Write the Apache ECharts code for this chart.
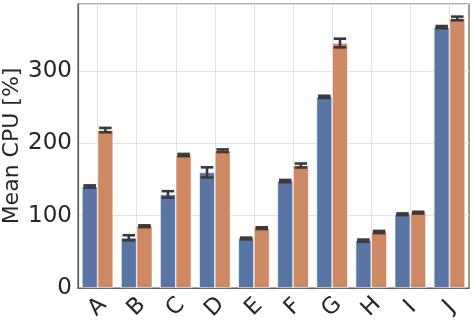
<!DOCTYPE html>
<html>
<head>
<meta charset="utf-8">
<script src="https://cdn.jsdelivr.net/npm/echarts@6/dist/echarts.min.js"></script>
<style>
  html, body { margin: 0; padding: 0; background: #fff; }
  #chart { width: 474px; height: 325px; }
</style>
</head>
<body>
<div id="chart"></div>
<script>
// Mean CPU usage per workload, two configurations with error bars
const categories = ['A', 'B', 'C', 'D', 'E', 'F', 'G', 'H', 'I', 'J'];
const blueMean = [140.5, 69.5, 129.5, 160, 68.5, 148, 264.5, 65.5, 102, 361];
const blueErr  = [1.5, 3.5, 4.5, 7, 1.2, 1.5, 1.5, 1.5, 1.2, 1.5];
const orangeMean = [218.5, 85.5, 184, 190, 82.8, 169.5, 339, 77.5, 104.3, 373];
const orangeErr  = [3, 1.2, 1.5, 1.8, 1.2, 2.8, 6, 1.5, 1.2, 2.5];
const yTicks = [0, 100, 200, 300];

const FONT = 'DejaVu Sans';
const TEXT = '#262626';
const BLUE = '#5975a4';
const ORANGE = '#cc8963';

function errorSeries(means, errs, side) {
  return {
    type: 'custom',
    z: 10,
    data: means.map((m, i) => [i, m - errs[i], m + errs[i]]),
    renderItem: function (params, api) {
      const idx = api.value(0);
      const band = api.size([1, 0])[0];
      const dx = side * band * 0.2;
      const lo = api.coord([idx, api.value(1)]);
      const hi = api.coord([idx, api.value(2)]);
      const x = lo[0] + dx;
      const half = band * 0.16;
      const st = { stroke: '#3a3a3a', lineWidth: 2.6 };
      return {
        type: 'group',
        children: [
          { type: 'line', shape: { x1: x, y1: lo[1], x2: x, y2: hi[1] }, style: st },
          { type: 'line', shape: { x1: x - half, y1: lo[1], x2: x + half, y2: lo[1] }, style: st },
          { type: 'line', shape: { x1: x - half, y1: hi[1], x2: x + half, y2: hi[1] }, style: st }
        ]
      };
    }
  };
}

const chart = echarts.init(document.getElementById('chart'), null, { renderer: 'canvas' });
chart.setOption({
  animation: false,
  backgroundColor: '#ffffff',
  grid: {
    left: 78, right: 5, top: 4, bottom: 37,
    containLabel: false,
    outerBoundsMode: 'none',
    show: true, borderColor: '#5a5a5a', borderWidth: 1.2, backgroundColor: 'transparent'
  },
  xAxis: {
    type: 'category',
    data: categories,
    axisLine: { show: true, lineStyle: { color: '#5a5a5a', width: 1.2 } },
    axisTick: { show: false },
    splitLine: { show: true, alignWithLabel: true, lineStyle: { color: '#e3e3e3', width: 1 } },
    axisLabel: {
      rotate: 45, align: 'center', verticalAlign: 'middle', margin: 19,
      fontFamily: FONT, fontSize: 22.5, color: TEXT
    }
  },
  yAxis: {
    type: 'value',
    min: 0, max: 393, interval: 100,
    name: 'Mean CPU [%]',
    nameLocation: 'middle',
    nameGap: 55,
    nameMoveOverlap: false,
    nameTextStyle: { fontFamily: FONT, fontSize: 22, color: TEXT },
    axisLine: { show: true, lineStyle: { color: '#5a5a5a', width: 1.2 } },
    axisTick: { show: false },
    splitLine: { show: true, lineStyle: { color: '#e3e3e3', width: 1 } },
    axisLabel: {
      margin: 6, fontFamily: FONT, fontSize: 23, color: TEXT,
      formatter: v => (yTicks.indexOf(v) >= 0 ? String(v) : '')
    }
  },
  series: [
    {
      type: 'bar', data: blueMean, barWidth: '40%', barGap: '0%',
      itemStyle: { color: BLUE, borderColor: '#ffffff', borderWidth: 0.6 }
    },
    {
      type: 'bar', data: orangeMean, barWidth: '40%', barGap: '0%',
      itemStyle: { color: ORANGE, borderColor: '#ffffff', borderWidth: 0.6 }
    },
    errorSeries(blueMean, blueErr, -1),
    errorSeries(orangeMean, orangeErr, 1)
  ]
});
</script>
</body>
</html>
